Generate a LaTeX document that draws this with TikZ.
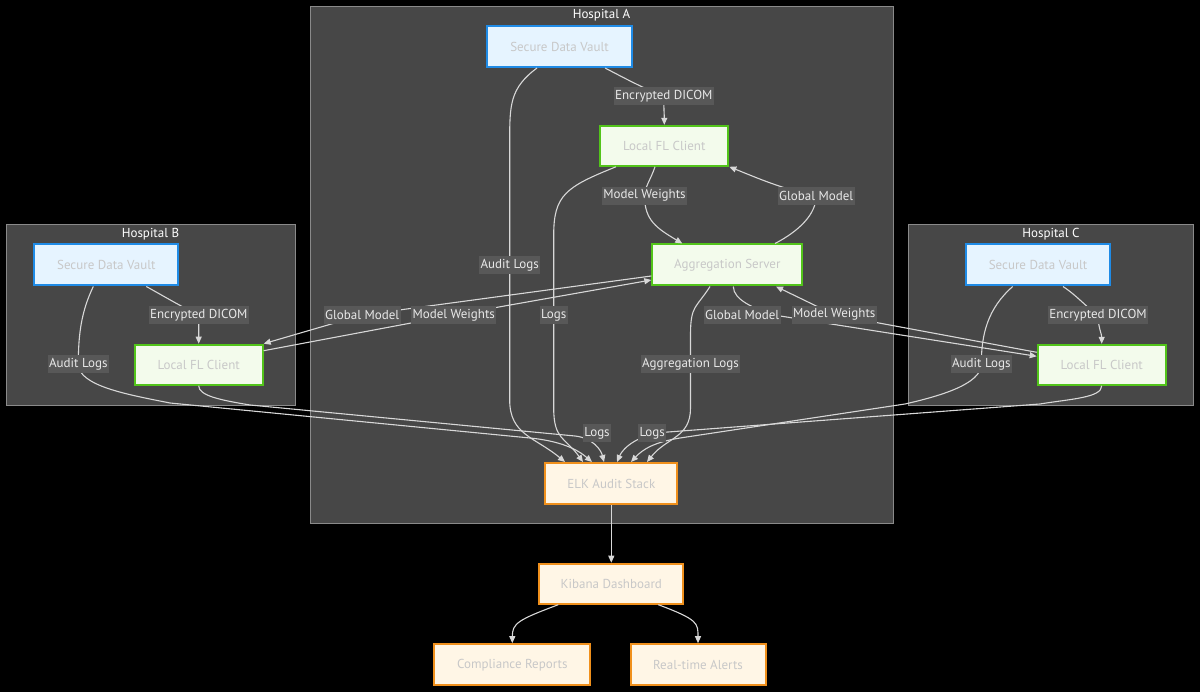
\documentclass[tikz,border=0pt]{standalone}
\usepackage{fontspec}
\setmainfont{PT Sans}
\usetikzlibrary{arrows.meta,calc}
\definecolor{clfill}{HTML}{474747}
\definecolor{cldraw}{HTML}{8A8A8A}
\definecolor{vfill}{HTML}{E6F4FF}
\definecolor{vdraw}{HTML}{1F8BE6}
\definecolor{gfill}{HTML}{F3FBEC}
\definecolor{gdraw}{HTML}{52C41A}
\definecolor{ofill}{HTML}{FFF6E6}
\definecolor{odraw}{HTML}{F0901C}
\definecolor{ntext}{HTML}{C8C8C8}
\definecolor{ledge}{HTML}{D8D8D8}
\definecolor{lblfill}{HTML}{585858}
\definecolor{lbltext}{HTML}{E8E8E8}
\begin{document}
\begin{tikzpicture}[x=1pt,y=-1pt,
  cluster/.style={fill=clfill,draw=cldraw,line width=0.8pt},
  ctitle/.style={text=white,font=\fontsize{13}{15}\selectfont,inner sep=0pt},
  box/.style={line width=2pt,inner sep=0pt,text=ntext,font=\fontsize{13}{15}\selectfont,anchor=center},
  vault/.style={box,fill=vfill,draw=vdraw,minimum height=41pt},
  green/.style={box,fill=gfill,draw=gdraw,minimum height=40pt},
  orange/.style={box,fill=ofill,draw=odraw,minimum height=40pt},
  lbl/.style={fill=lblfill,text=lbltext,font=\fontsize{13}{15}\selectfont,inner xsep=1.5pt,inner ysep=0pt,minimum height=18pt},
  edge/.style={draw=ledge,line width=1.1pt,-{Triangle[length=7pt,width=6pt]}},
]
\fill[black] (0,0) rectangle (1200,692);
\useasboundingbox (0,0) rectangle (1200,692);

% clusters
\draw[cluster] (310,6) rectangle (893.5,523);
\draw[cluster] (6,224.5) rectangle (295,405);
\draw[cluster] (908.5,224.5) rectangle (1193.5,405);
\node[ctitle] (tA) at (601.5,15.5) {Hospital A};
\node[ctitle] (tB) at (150.5,234.5) {Hospital B};
\node[ctitle] (tC) at (1051,234.5) {Hospital C};

% nodes
\node[vault,minimum width=145pt] (av) at (559.5,46.5) {Secure Data Vault};
\node[green,minimum width=128pt] (ac) at (664.3,145.8) {Local FL Client};
\node[green,minimum width=150pt,minimum height=41pt] (ag) at (727.3,265) {Aggregation Server};
\node[vault,minimum width=144pt] (bv) at (106.3,265) {Secure Data Vault};
\node[green,minimum width=128pt] (bc) at (198.7,364.7) {Local FL Client};
\node[vault,minimum width=144pt] (cv) at (1038,265) {Secure Data Vault};
\node[green,minimum width=128pt] (cc) at (1101.7,364.8) {Local FL Client};
\node[orange,minimum width=132pt,minimum height=41pt] (elk) at (611.3,483.5) {ELK Audit Stack};
\node[orange,minimum width=144pt] (kib) at (611.3,583.7) {Kibana Dashboard};
\node[orange,minimum width=156pt,minimum height=41pt] (cr) at (512.3,664.7) {Compliance Reports};
\node[orange,minimum width=135pt,minimum height=41pt] (ra) at (698,664.7) {Real-time Alerts};

% label positions
\coordinate (l1) at (663.8,96.3);
\coordinate (l2) at (509.7,265);
\coordinate (l3) at (553.7,315);
\coordinate (l4) at (644.5,195.7);
\coordinate (l5) at (816.2,195.7);
\coordinate (l6) at (690.5,364.3);
\coordinate (l7) at (362.2,315);
\coordinate (l8) at (453.7,315);
\coordinate (l9) at (742.2,314.7);
\coordinate (l10) at (834.2,314.7);
\coordinate (l11) at (198.8,315);
\coordinate (l12) at (78.3,364.2);
\coordinate (l13) at (597,433.3);
\coordinate (l14) at (1098,315);
\coordinate (l15) at (981.3,364.2);
\coordinate (l16) at (652.2,433.3);

% waypoints
\coordinate (a2u) at (509.7,140);
\coordinate (a2w) at (509.7,400);
\coordinate (a3u) at (553.7,235);
\coordinate (a3w) at (553.7,408);
\coordinate (a6u) at (690.5,335);
\coordinate (a6w) at (690.5,408);
\coordinate (a9) at (770,314.4);
\coordinate (b12a) at (170,403);
\coordinate (b12b) at (530,438);
\coordinate (b13a) at (250,405);
\coordinate (b13b) at (575,436);
\coordinate (c15a) at (905,404);
\coordinate (c15b) at (680,438);
\coordinate (c16a) at (1040,404);
\coordinate (c16b) at (668,432);

% Hospital A edges
\draw[edge] ($(av.south)+(45.5,0)$) .. controls +(25,13) and +(-20,-8) .. (l1) .. controls +(0,14) and +(0,-10) .. (ac.north);
\draw[edge] ($(av.south)+(-22.5,0)$) .. controls +(-27,20) and +(0,-35) .. (a2u) -- (l2) -- (a2w) .. controls +(0,35) and +(-30,-25) .. ($(elk.north)+(-46.3,0)$);
\draw[edge] ($(ac.south)+(-48.3,0)$) .. controls +(-50,20) and +(0,-40) .. (a3u) -- (l3) -- (a3w) .. controls +(0,32) and +(-18,-25) .. ($(elk.north)+(-28.3,0)$);
\draw[edge] ($(ac.south)+(-9.3,0)$) .. controls +(-4,12) and +(0,-8) .. (l4) .. controls +(0,25) and +(-25,-15) .. ($(ag.north)+(-45,0)$);
\draw[edge] ($(ag.north)+(47.7,0)$) .. controls +(25,-13) and +(0,18) .. (l5) .. controls +(-30,-5) and +(25,10) .. (ac.south east);
\draw[edge] ($(ag.south)+(-17.3,0)$) .. controls +(-14,22) and +(0,-30) .. (a6u) -- (l6) -- (a6w) .. controls +(0,30) and +(20,-25) .. ($(elk.north)+(35.7,0)$);

% Aggregation <-> B and C
\draw[edge] ($(ag.west)+(0,11)$) -- (l7) -- (bc.north east);
\draw[edge] ($(bc.east)+(0,-14)$) -- (l8) -- ($(ag.west)+(0,15)$);
\draw[edge] ($(ag.south)+(6,0)$) .. controls +(0,14) and +(-14,-6) .. (a9) -- ($(cc.west)+(0,-8.5)$);
\draw[edge] ($(cc.west)+(0,-12.5)$) -- (l10) -- ($(ag.south)+(48.7,0)$);

% Hospital B edges
\draw[edge] ($(bv.south)+(40,0)$) .. controls +(18,10) and +(-15,-7) .. (l11) .. controls +(0,12) and +(0,-10) .. (bc.north);
\draw[edge] ($(bv.south)+(-13,0)$) .. controls +(-12,25) and +(0,-30) .. (l12) .. controls +(0,22) and +(-40,-8) .. (b12a) -- (b12b) .. controls +(30,3) and +(-15,-13) .. ($(elk.north)+(-19.3,0)$);
\draw[edge] (bc.south) .. controls +(0,10) and +(-30,-5) .. (b13a) -- (b13b) .. controls +(18,2) and +(-3,-12) .. ($(elk.north)+(-7.3,0)$);

% Hospital C edges
\draw[edge] ($(cv.south)+(25,0)$) .. controls +(15,10) and +(-12,-8) .. (l14) .. controls +(0,12) and +(0,-10) .. (cc.north);
\draw[edge] ($(cv.south)+(-25.3,0)$) .. controls +(-25,22) and +(0,-30) .. (l15) .. controls +(0,20) and +(35,-8) .. (c15a) -- (c15b) .. controls +(-25,4) and +(12,-13) .. ($(elk.north)+(19.7,0)$);
\draw[edge] (cc.south) .. controls +(0,12) and +(30,-5) .. (c16a) -- (c16b) .. controls +(-30,2) and +(6,-14) .. ($(elk.north)+(5.7,0)$);

% reporting
\draw[edge] (elk.south) -- (kib.north);
\draw[edge] ($(kib.south)+(-53,0)$) .. controls +(-40,15) and +(0,-20) .. (cr.north);
\draw[edge] ($(kib.south)+(47,0)$) .. controls +(40,15) and +(0,-20) .. (ra.north);

% edge labels
\node[lbl] (t1) at (l1) {Encrypted DICOM};
\node[lbl] (t2) at (l2) {Audit Logs};
\node[lbl] (t3) at (l3) {Logs};
\node[lbl] (t4) at (l4) {Model Weights};
\node[lbl] (t5) at (l5) {Global Model};
\node[lbl] (t6) at (l6) {Aggregation Logs};
\node[lbl] (t7) at (l7) {Global Model};
\node[lbl] (t8) at (l8) {Model Weights};
\node[lbl] (t9) at (l9) {Global Model};
\node[lbl] (t10) at (l10) {Model Weights};
\node[lbl] (t11) at (l11) {Encrypted DICOM};
\node[lbl] (t12) at (l12) {Audit Logs};
\node[lbl] (t13) at (l13) {Logs};
\node[lbl] (t14) at (l14) {Encrypted DICOM};
\node[lbl] (t15) at (l15) {Audit Logs};
\node[lbl] (t16) at (l16) {Logs};
\end{tikzpicture}
\end{document}
